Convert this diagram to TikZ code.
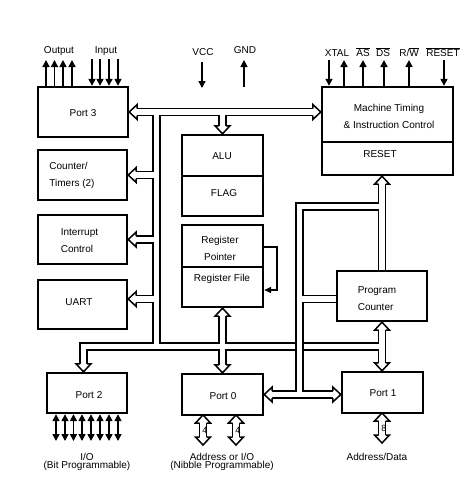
\documentclass[tikz,border=0pt]{standalone}
\usepackage{fontspec}
\setmainfont{Liberation Sans}
\usetikzlibrary{arrows.meta,calc}
\pgfdeclarelayer{bg}
\pgfsetlayers{bg,main}
\newcommand\bushead[2]{\begin{scope}[shift={(#1)},rotate=#2]
  \filldraw[fill=white,draw=black,line width=1.5pt,line join=miter] (-8,3.5)--(-8,7.5)--(0,0)--(-8,-7.5)--(-8,-3.5);
\end{scope}}
\begin{document}
\begin{tikzpicture}[x=1pt,y=-1pt,
  font=\fontsize{10}{12}\selectfont,
  box/.style={draw, line width=2.4pt, inner sep=0pt},
  txt/.style={inner sep=0pt, font=\fontsize{10}{17}\selectfont},
  lbl/.style={inner sep=0pt, anchor=base},
  num/.style={inner sep=0pt, font=\fontsize{9}{10}\selectfont},
  sig/.style={line width=1.6pt, -{Triangle[length=7pt,width=7pt]}},
  sigb/.style={line width=1.6pt, {Triangle[length=7pt,width=7pt]}-{Triangle[length=7pt,width=7pt]}},
  busout/.style={line width=8.6pt, draw=black},
  busin/.style={line width=5.4pt, draw=white}]
\useasboundingbox (0,0) rectangle (474,488);
% boxes
\node[box, minimum width=90, minimum height=50] (p3) at (83,112) {};
\node[box, minimum width=89, minimum height=50] (ct) at (82.5,175) {};
\node[box, minimum width=89, minimum height=49] (ic) at (82.5,239.5) {};
\node[box, minimum width=89, minimum height=49] (ua) at (82.5,304.5) {};
\node[box, minimum width=81, minimum height=41] (alu) at (222.5,155.5) {};
\node[box, minimum width=81, minimum height=40] (flag) at (222.5,196) {};
\node[box, minimum width=81, minimum height=42] (rp) at (222.5,246) {};
\node[box, minimum width=81, minimum height=40] (rf) at (222.5,287) {};
\node[box, minimum width=131, minimum height=55] (mt) at (387.5,114.5) {};
\node[box, minimum width=131, minimum height=33] (rs) at (387.5,158.5) {};
\node[box, minimum width=90, minimum height=50] (pc) at (382,296) {};
\node[box, minimum width=80, minimum height=40] (p2) at (87,393) {};
\node[box, minimum width=81, minimum height=41] (p0) at (222.5,394.5) {};
\node[box, minimum width=81, minimum height=41] (p1) at (382.5,392.5) {};
% box texts
\node[txt] (p3t) at (83,113) {Port 3};
\node[txt, align=left] (ctt) at (72,175.5) {Counter/\\Timers (2)};
\node[txt, align=left] (ict) at (79.5,241) {Interrupt\\Control};
\node[txt] (uat) at (79,302) {UART};
\node[txt] (alut) at (222,156) {ALU};
\node[txt] (flagt) at (224,193) {FLAG};
\node[txt, align=center] (rpt) at (220,248.5) {Register\\Pointer};
\node[txt] (rft) at (222,279) {Register File};
\node[txt, align=center] (mtt) at (389,116.5) {Machine Timing\\\& Instruction Control};
\node[txt] (rst) at (380,154) {RESET};
\node[txt, align=left] (pct) at (377,298.5) {Program\\Counter};
\node[txt] (p2t) at (89,395) {Port 2};
\node[txt] (p0t) at (223,396) {Port 0};
\node[txt] (p1t) at (383,393) {Port 1};
% helper coordinates
\coordinate (lb) at (156.5,0);
\coordinate (bb) at (0,346.5);
\coordinate (uab) at (0,299);
\coordinate (p2b) at (83.5,0);
\coordinate (vb) at (299.5,0);
\coordinate (br) at (0,206.5);
\coordinate (pcb) at (0,299);
\newcommand\busone[1]{%
  \draw[#1] ($(p3.east)+(8,0)$) -- ($(p3.east -| mt.west)+(-8,0)$);
  \draw[#1] (alu.north |- p3.east) -- ($(alu.north)+(0,-8)$);
  \draw[#1] (lb |- p3.east) -- (lb |- bb);
  \draw[#1] (lb |- ct.east) -- ($(ct.east)+(8,0)$);
  \draw[#1] (lb |- ic.east) -- ($(ic.east)+(8,0)$);
  \draw[#1] (lb |- uab) -- ($(ua.east |- uab)+(8,0)$);
  \draw[#1] ($(p2b |- p2.north)+(0,-8)$) -- (p2b |- bb) -- (pc.south |- bb);
  \draw[#1] ($(rf.south)+(0,8)$) -- ($(p0.north)+(0,-8)$);
  \draw[#1] ($(pc.south)+(0,8)$) -- ($(pc.south |- p1.north)+(0,-8)$);
  \draw[#1] (203,423) -- (203,437);
  \draw[#1] (236,423) -- (236,437);
  \draw[#1] (382,421) -- (382,435);
}
\newcommand\bustwo[1]{%
  \draw[#1] (pc.north) -- ($(rs.south -| pc.north)+(0,8)$);
  \draw[#1] (pc.north |- br) -- (vb |- br) -- (vb |- p0.east);
  \draw[#1] (vb |- pcb) -- (pc.west |- pcb);
  \draw[#1] ($(p0.east)+(8,0)$) -- ($(p1.west |- p0.east)+(-8,0)$);
}
\coordinate (a0t) at (203,415);
\coordinate (a0b) at (203,445);
\coordinate (a1t) at (236,415);
\coordinate (a1b) at (236,445);
\coordinate (a2t) at (382,413);
\coordinate (a2b) at (382,443);
\begin{pgfonlayer}{bg}
  \busone{busout}
  \busone{busin}
  \bushead{p3.east}{180}
  \bushead{p3.east -| mt.west}{0}
  \bushead{alu.north}{-90}
  \bushead{ct.east}{180}
  \bushead{ic.east}{180}
  \bushead{ua.east |- uab}{180}
  \bushead{p2b |- p2.north}{-90}
  \bushead{rf.south}{90}
  \bushead{p0.north}{-90}
  \bushead{pc.south}{90}
  \bushead{pc.south |- p1.north}{-90}
  \bushead{a0t}{90}
  \bushead{a0b}{-90}
  \bushead{a1t}{90}
  \bushead{a1b}{-90}
  \bushead{a2t}{90}
  \bushead{a2b}{-90}
  \bustwo{busout}
  \bustwo{busin}
  \bushead{rs.south -| pc.north}{90}
  \bushead{p0.east}{180}
  \bushead{p1.west |- p0.east}{0}
\end{pgfonlayer}
\node[num] (n4a) at (205,430) {4};
\node[num] (n4b) at (238,430) {4};
\node[num] (n8) at (384,428) {8};
% register pointer loop
\draw[line width=1.5pt, -{Triangle[length=7pt,width=6pt]}] (rp.east |- 0,247) -- (277,247) -- (277,290) -- (rf.east |- 0,290);
% top signals
\foreach \x in {46,54.5,63,72} \draw[sig] (\x,0 |- p3.north) -- (\x,60);
\foreach \x in {92,100,109,118} \draw[sig] (\x,59) -- (\x,0 |- p3.north);
\draw[sig] (202,62) -- (202,88);
\draw[sig] (244,87) -- (244,60);
\draw[sig] (329,60) -- (329,0 |- mt.north);
\foreach \x in {344,363,384,409} \draw[sig] (\x,0 |- mt.north) -- (\x,60);
\draw[sig] (444,60) -- (444,0 |- mt.north);
\node[lbl] (lout) at (59,53.5) {Output};
\node[lbl] (lin) at (106,53.5) {Input};
\node[lbl] (lvcc) at (203,55) {VCC};
\node[lbl] (lgnd) at (245,53) {GND};
\node[lbl] (lxtal) at (337,56.7) {XTAL};
\node[lbl] (las) at (363,56.7) {$\overline{\mbox{AS}}$};
\node[lbl] (lds) at (383,56.7) {$\overline{\mbox{DS}}$};
\node[lbl] (lrw) at (409,56.7) {R/$\overline{\mbox{W}}$};
\node[lbl] (lrst) at (443,56.7) {$\overline{\mbox{RESET}}$};
% port 2 IO
\foreach \x in {56,65,73.5,82,91,100,109,118} \draw[sigb] (\x,0 |- p2.south) -- (\x,441);
\node[lbl] (lio) at (87,460) {I/O};
\node[lbl] (lbit) at (87,468.5) {(Bit Programmable)};
\node[lbl] (lad) at (222,460) {Address or I/O};
\node[lbl] (lnib) at (222,468.5) {(Nibble Programmable)};
\node[lbl] (ladd) at (377,460.5) {Address/Data};
\end{tikzpicture}
\end{document}
